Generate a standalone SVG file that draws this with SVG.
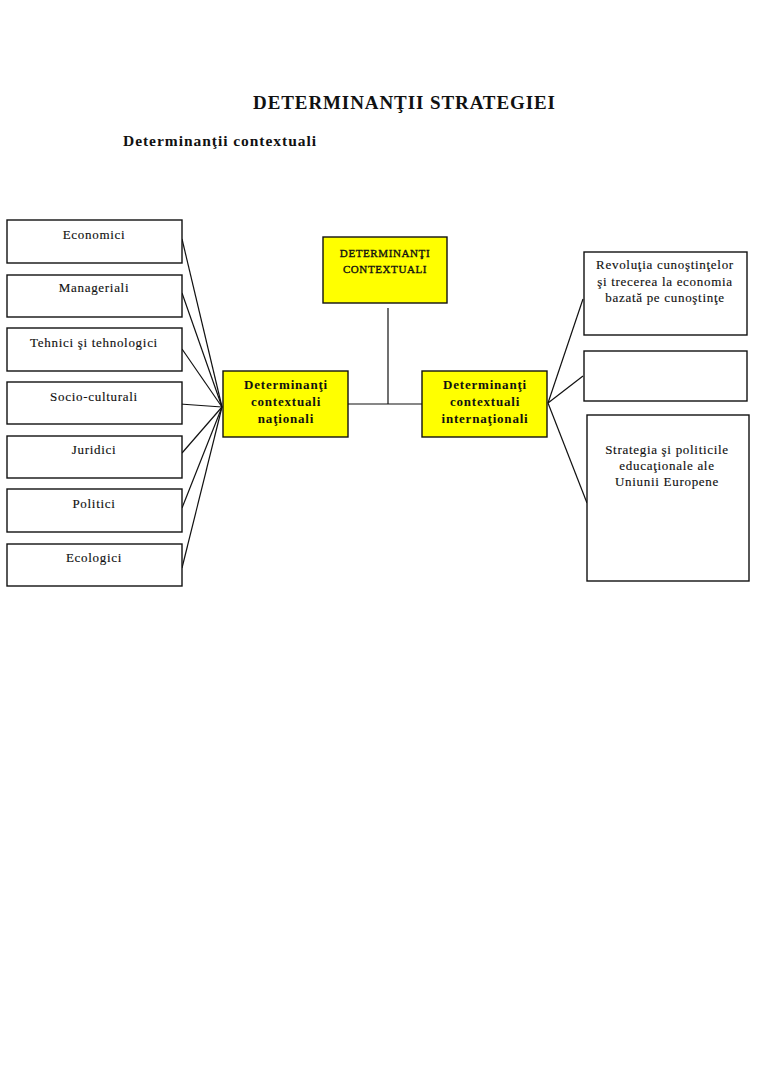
<svg xmlns="http://www.w3.org/2000/svg" width="768" height="1086" viewBox="0 0 768 1086">
<style>
.bg{fill:#ffffff}
.box{fill:#ffffff;stroke:#111;stroke-width:1.4}
.ybox{fill:#ffff00;stroke:#111;stroke-width:1.4}
.t{font-family:"Liberation Serif","Times New Roman",serif;font-size:13px;fill:#111;text-anchor:middle;letter-spacing:0.7px;stroke:#111;stroke-width:0.15}
.tb{font-family:"Liberation Serif","Times New Roman",serif;font-size:13px;font-weight:bold;fill:#111;text-anchor:middle;letter-spacing:0.8px}
.tc{font-family:"Liberation Serif","Times New Roman",serif;font-size:11px;fill:#111;text-anchor:middle;letter-spacing:0.6px;stroke:#111;stroke-width:0.35}
.h1{font-family:"Liberation Serif","Times New Roman",serif;font-size:19px;font-weight:bold;fill:#111}
.h2{font-family:"Liberation Serif","Times New Roman",serif;font-size:15.5px;font-weight:bold;fill:#111}
.ln{stroke:#111;stroke-width:1.2;fill:none}
</style>
<rect class="bg" x="0" y="0" width="768" height="1086"/>
<text class="h1" x="253" y="109" textLength="302" lengthAdjust="spacing">DETERMINANŢII STRATEGIEI</text>
<text class="h2" x="123" y="146" textLength="193" lengthAdjust="spacing">Determinanţii contextuali</text>

<g id="connectors">
<line class="ln" x1="182" y1="239" x2="222" y2="407"/>
<line class="ln" x1="182" y1="293" x2="222" y2="407"/>
<line class="ln" x1="182" y1="349" x2="222" y2="407"/>
<line class="ln" x1="180" y1="404" x2="222" y2="407"/>
<line class="ln" x1="182" y1="453" x2="222" y2="407"/>
<line class="ln" x1="182" y1="508" x2="222" y2="407"/>
<line class="ln" x1="182" y1="568" x2="222" y2="407"/>
<line class="ln" x1="348" y1="404" x2="422" y2="404"/>
<line class="ln" x1="388" y1="308" x2="388" y2="404"/>
<line class="ln" x1="548" y1="403" x2="583" y2="299"/>
<line class="ln" x1="548" y1="403" x2="583" y2="376"/>
<line class="ln" x1="548" y1="403" x2="587" y2="503"/>
</g>

<g id="economici"><rect class="box" x="7" y="220" width="175" height="43"/><text class="t" x="94" y="239">Economici</text></g>
<g id="manageriali"><rect class="box" x="7" y="275" width="175" height="42"/><text class="t" x="94" y="292">Manageriali</text></g>
<g id="tehnici"><rect class="box" x="7" y="328" width="175" height="43"/><text class="t" x="94" y="347">Tehnici şi tehnologici</text></g>
<g id="socio"><rect class="box" x="7" y="382" width="175" height="42"/><text class="t" x="94" y="401">Socio-culturali</text></g>
<g id="juridici"><rect class="box" x="7" y="436" width="175" height="42"/><text class="t" x="94" y="454">Juridici</text></g>
<g id="politici"><rect class="box" x="7" y="489" width="175" height="43"/><text class="t" x="94" y="508">Politici</text></g>
<g id="ecologici"><rect class="box" x="7" y="544" width="175" height="42"/><text class="t" x="94" y="562">Ecologici</text></g>

<g id="contextuali"><rect class="ybox" x="323" y="237" width="124" height="66"/><text class="tc" x="385" y="257">DETERMINANŢI</text><text class="tc" x="385" y="273">CONTEXTUALI</text></g>

<g id="nationali"><rect class="ybox" x="223" y="371" width="125" height="66"/><text class="tb" x="286" y="389">Determinanţi</text><text class="tb" x="286" y="406">contextuali</text><text class="tb" x="286" y="423">naţionali</text></g>

<g id="internationali"><rect class="ybox" x="422" y="371" width="125" height="66"/><text class="tb" x="485" y="389">Determinanţi</text><text class="tb" x="485" y="406">contextuali</text><text class="tb" x="485" y="423">internaţionali</text></g>

<g id="revolutia"><rect class="box" x="584" y="252" width="163" height="83"/><text class="t" x="665" y="269">Revoluţia cunoştinţelor</text><text class="t" x="665" y="286">şi trecerea la economia</text><text class="t" x="665" y="302">bazată pe cunoştinţe</text></g>

<g id="empty"><rect class="box" x="584" y="351" width="163" height="50"/></g>

<g id="strategia"><rect class="box" x="587" y="415" width="162" height="166"/><text class="t" x="667" y="454">Strategia şi politicile</text><text class="t" x="667" y="470">educaţionale ale</text><text class="t" x="667" y="486">Uniunii Europene</text></g>
</svg>
